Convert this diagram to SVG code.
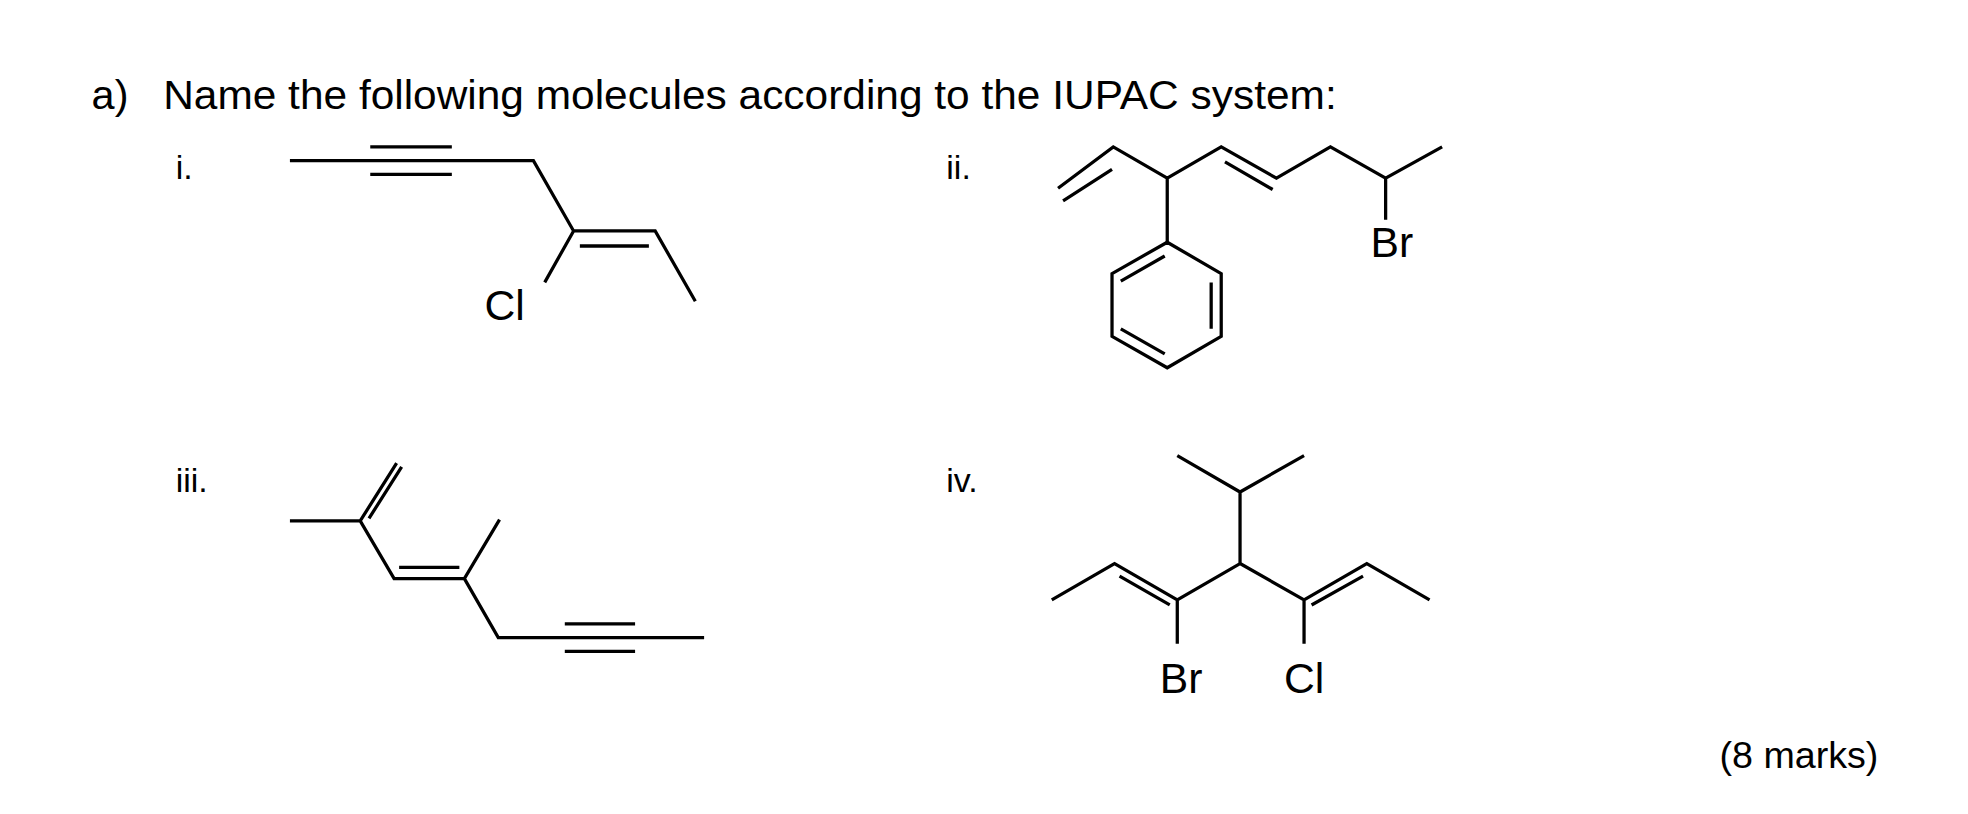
<svg xmlns="http://www.w3.org/2000/svg" width="1968" height="814" viewBox="0 0 1968 814">
<style>
.b{stroke:#000;stroke-width:2.6;fill:none;stroke-linecap:butt}
.t{font-family:"Liberation Sans",Arial,sans-serif;fill:#000}
</style>
<rect width="1968" height="814" fill="#fff"/>
<g transform="scale(1.2551)">
<g id="title" class="t" font-size="33"><text x="73" y="87">a)</text><text x="130" y="87" textLength="935" lengthAdjust="spacingAndGlyphs">Name the following molecules according to the IUPAC system:</text></g>
<g id="labels" class="t" font-size="27"><text x="140" y="143">i.</text><text x="754" y="143">ii.</text><text x="140" y="392">iii.</text><text x="754" y="392">iv.</text><text x="1370" y="612" font-size="30">(8 marks)</text></g>
<g id="mol1">
<path class="b" d="M231,128H425L457,184H522L554,240M457,184L434,225M295,117H360M295,139H360M462,196H517"/>
<text class="t" x="386" y="255" font-size="34">Cl</text>
</g>
<g id="mol2">
<path class="b" d="M843,150L887,117L930,142L973,117L1017,142L1060,117L1104,142L1149,117M1104,142V175M930,142V193M847,160L886,135M976,129L1014,151"/>
<path class="b" d="M930,193L973,218V268L930,293L886,268V218Z M893,224L928,204M965,225V262M928,282L893,262"/>
<text class="t" x="1092" y="205" font-size="34">Br</text>
</g>
<g id="mol3">
<path class="b" d="M231,415H287L316,369M287,415L314,461H370L398,414M370,461L397,508H561M294,413L320,372M318,452H366M450,497H506M450,519H506"/>
</g>
<g id="mol4">
<path class="b" d="M938,363L988,392L1039,363M988,392V449L938,478L888,449L838,478M938,478V513M988,449L1039,478L1089,449L1139,478M1039,478V513M892,459L932,482M1045,482L1086,459"/>
<text class="t" x="924" y="552" font-size="34">Br</text>
<text class="t" x="1023" y="552" font-size="34">Cl</text>
</g>
</g>
</svg>
